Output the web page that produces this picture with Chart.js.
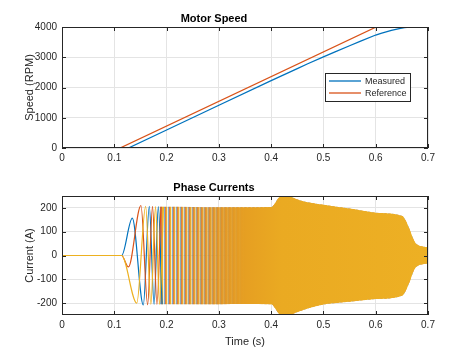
<!DOCTYPE html>
<html><head><meta charset="utf-8">
<script src="https://cdn.jsdelivr.net/npm/chart.js@4"></script>
<style>
html,body{margin:0;padding:0;background:#fff;}
#wrap{position:relative;width:474px;height:355px;background:#fff;overflow:hidden;}
canvas{position:absolute;left:0;}
#c1{top:0;} #c2{top:170px;}
</style></head><body>
<div id="wrap"><canvas id="c1" width="474" height="170"></canvas><canvas id="c2" width="474" height="185"></canvas></div>
<script>
// ---- tick labels ----
const xTicks = [0, 0.1, 0.2, 0.3, 0.4, 0.5, 0.6, 0.7];
const speedTicks = [0, 1000, 2000, 3000, 4000];
const currentTicks = [-200, -100, 0, 100, 200];

// ---- Motor speed (RPM) ----
const refTime = [0, 0.111, 0.601, 0.7];
const refSpeed = [0, 0, 4000, 4000];
const measTime = [0, 0.127, 0.2, 0.3, 0.4, 0.45, 0.47, 0.5, 0.52, 0.55, 0.57, 0.6, 0.61, 0.63, 0.645, 0.655, 0.665, 0.7];
const measSpeed = [0, 0, 596, 1412, 2229, 2625, 2785, 3010, 3160, 3380, 3525, 3735, 3790, 3890, 3950, 3982, 4000, 4000];

// ---- Phase currents (A): resolvable start-up swings (peaks) ----
const phaseATime = [0, 0.114, 0.1345, 0.1555, 0.167, 0.1761, 0.1842, 0.1915];
const phaseAI    = [0, 0, 157, -208, 207, -205, 205, -205];
const phaseBTime = [0, 0.114, 0.127, 0.151, 0.1638, 0.1731, 0.1816, 0.1892];
const phaseBI    = [0, 0, -48, 210, -207, 206, -205, 205];
const phaseCTime = [0, 0.114, 0.143, 0.160, 0.170, 0.1789, 0.1867, 0.194];
const phaseCI    = [0, 0, -200, 207, -205, 205, -205, 205];

// ---- Phase currents: envelope of the dense oscillation band ----
const envTime  = [0.185, 0.25, 0.3, 0.35, 0.4, 0.403, 0.408, 0.413, 0.418, 0.424, 0.43, 0.44, 0.456, 0.5, 0.55, 0.6, 0.651, 0.657, 0.662, 0.666, 0.67, 0.674, 0.68, 0.69, 0.7];
const envUpper = [205, 204, 203, 203, 204, 207, 222, 238, 250, 256, 254, 245, 231, 213, 197, 180, 166, 148, 125, 103, 80, 60, 45, 38, 35];
const envLower = [-205, -205, -205, -204, -205, -208, -224, -240, -252, -258, -256, -247, -233, -206, -194, -183, -168, -150, -126, -104, -80, -58, -44, -37, -34];

const pts = (xs, ys) => xs.map((x, i) => ({x: x, y: ys[i]}));

Chart.defaults.font.family = '"Liberation Sans", Arial, Helvetica, sans-serif';
Chart.defaults.color = '#262626';

const AX = '#262626';
const GRID = '#E4E4E4';

const boxPlugin = {
  id: 'mbox',
  afterDraw(chart) {
    const {ctx, chartArea: a, scales} = chart;
    ctx.save();
    ctx.strokeStyle = AX; ctx.lineWidth = 1;
    ctx.beginPath();
    scales.x.ticks.forEach(t => {
      const px = Math.round(scales.x.getPixelForValue(t.value)) + 0.5;
      ctx.moveTo(px, a.bottom); ctx.lineTo(px, a.bottom - 4);
      ctx.moveTo(px, a.top); ctx.lineTo(px, a.top + 4);
    });
    scales.y.ticks.forEach(t => {
      const py = Math.round(scales.y.getPixelForValue(t.value)) + 0.5;
      ctx.moveTo(a.left, py); ctx.lineTo(a.left + 4, py);
      ctx.moveTo(a.right, py); ctx.lineTo(a.right - 4, py);
    });
    ctx.stroke();
    ctx.strokeRect(Math.round(a.left) + 0.5, Math.round(a.top) + 0.5,
                   Math.round(a.right - a.left) - 1, Math.round(a.bottom - a.top) - 1);
    ctx.restore();
  }
};

const legendPlugin = {
  id: 'mlegend',
  afterDraw(chart) {
    const {ctx, chartArea: a} = chart;
    const x0 = Math.round(a.right) - 103, y0 = Math.round(a.top) + 46, w = 85, h = 28;
    ctx.save();
    ctx.fillStyle = '#fff';
    ctx.fillRect(x0, y0, w, h);
    ctx.strokeStyle = AX; ctx.lineWidth = 1;
    ctx.strokeRect(x0 + 0.5, y0 + 0.5, w, h);
    const items = ['Measured', 'Reference'];
    items.forEach((lbl, i) => {
      const ds = chart.data.datasets.find(d => d.label === lbl);
      const y = y0 + 8 + i * 12;
      ctx.strokeStyle = ds.borderColor; ctx.lineWidth = 1.3;
      ctx.beginPath(); ctx.moveTo(x0 + 4, y); ctx.lineTo(x0 + 36, y); ctx.stroke();
      ctx.fillStyle = AX; ctx.font = '9px "Liberation Sans", Arial, sans-serif';
      ctx.textBaseline = 'middle'; ctx.textAlign = 'left';
      ctx.fillText(lbl, x0 + 40, y + 0.5);
    });
    ctx.restore();
  }
};

function xScale(height) {
  return {
    type: 'linear', min: 0, max: 0.7,
    afterBuildTicks: s => { s.ticks = xTicks.map(v => ({value: v})); },
    afterFit: s => { s.height = height; },
    ticks: {callback: v => String(v), padding: 4, color: AX, font: {size: 10}, maxRotation: 0, autoSkip: false},
    grid: {color: GRID, drawTicks: false},
    border: {display: false}
  };
}
function yScale(min, max, ticks, label) {
  return {
    type: 'linear', min: min, max: max,
    afterBuildTicks: s => { s.ticks = ticks.map(v => ({value: v})); },
    afterFit: s => { s.width = 62; },
    ticks: {callback: v => String(v), padding: 5, color: AX, font: {size: 10}, autoSkip: false},
    grid: {color: GRID, drawTicks: false},
    border: {display: false},
    title: {display: true, text: label, color: AX, font: {size: 11}, padding: {top: 23, bottom: 0}}
  };
}

// ---------- Top: Motor Speed ----------
new Chart(document.getElementById('c1'), {
  type: 'line',
  data: {datasets: [
    {label: 'Measured', data: pts(measTime, measSpeed), borderColor: '#0072BD', borderWidth: 1.3,
     pointRadius: 0, tension: 0, order: 2, fill: false},
    {label: 'Reference', data: pts(refTime, refSpeed), borderColor: '#D95319', borderWidth: 1.3,
     pointRadius: 0, tension: 0, order: 1, fill: false}
  ]},
  options: {
    responsive: false, animation: false, devicePixelRatio: 1,
    layout: {padding: {left: 0, right: 46, top: 0, bottom: 0}},
    plugins: {
      legend: {display: false}, tooltip: {enabled: false},
      title: {display: true, text: 'Motor Speed', color: '#000', font: {size: 11, weight: 'bold'}, padding: {top: 12, bottom: 1.8}}
    },
    scales: {x: xScale(22), y: yScale(0, 4000, speedTicks, 'Speed (RPM)')}
  },
  plugins: [boxPlugin, legendPlugin]
});

// ---------- Bottom: Phase Currents ----------
// striped texture standing in for the densely packed three-phase traces
const stripeCanvas = document.createElement('canvas');
stripeCanvas.width = 4; stripeCanvas.height = 2;
(function () {
  const c = stripeCanvas.getContext('2d');
  const cols = ['rgba(0,114,189,0.55)', 'rgba(217,83,25,0.8)', 'rgba(237,177,32,0.95)', 'rgba(240,215,170,0.35)'];
  cols.forEach((col, i) => { c.fillStyle = col; c.fillRect(i, 0, 1, 2); });
})();
let stripePattern = null;
function stripeFill(context) {
  const ctx = context.chart.ctx;
  if (!stripePattern) stripePattern = ctx.createPattern(stripeCanvas, 'repeat');
  return stripePattern;
}
function bandFill(context) {
  const chart = context.chart;
  const {ctx, chartArea} = chart;
  if (!chartArea) return 'rgba(0,0,0,0)';
  const xs = chart.scales.x;
  const p0 = xs.getPixelForValue(0), p1 = xs.getPixelForValue(0.7);
  const g = ctx.createLinearGradient(p0, 0, p1, 0);
  const f = t => t / 0.7;
  g.addColorStop(f(0.185), 'rgba(222,150,45,0)');
  g.addColorStop(f(0.22), 'rgba(218,150,50,0.2)');
  g.addColorStop(f(0.27), 'rgba(220,148,42,0.55)');
  g.addColorStop(f(0.31), 'rgba(225,152,38,0.88)');
  g.addColorStop(f(0.35), 'rgb(230,159,34)');
  g.addColorStop(f(0.42), 'rgb(234,170,34)');
  g.addColorStop(1, 'rgb(237,176,36)');
  return g;
}

new Chart(document.getElementById('c2'), {
  type: 'line',
  data: {datasets: [
    {label: 'Phase A', data: pts(phaseATime, phaseAI), borderColor: '#0072BD', borderWidth: 1.2,
     pointRadius: 0, cubicInterpolationMode: 'monotone', order: 3, fill: false},
    {label: 'Phase B', data: pts(phaseBTime, phaseBI), borderColor: '#D95319', borderWidth: 1.2,
     pointRadius: 0, cubicInterpolationMode: 'monotone', order: 2, fill: false},
    {label: 'Phase C', data: pts(phaseCTime, phaseCI), borderColor: '#EDB120', borderWidth: 1.2,
     pointRadius: 0, cubicInterpolationMode: 'monotone', order: 1, fill: false},
    {label: 'Band upper', data: pts(envTime, envUpper), borderColor: 'rgba(0,0,0,0)', borderWidth: 0,
     pointRadius: 0, cubicInterpolationMode: 'monotone', order: 4, fill: '+1', backgroundColor: bandFill},
    {label: 'Band lower', data: pts(envTime, envLower), borderColor: 'rgba(0,0,0,0)', borderWidth: 0,
     pointRadius: 0, cubicInterpolationMode: 'monotone', order: 5, fill: false},
    {label: 'Texture upper', data: pts(envTime, envUpper), borderColor: 'rgba(0,0,0,0)', borderWidth: 0,
     pointRadius: 0, cubicInterpolationMode: 'monotone', order: 6, fill: '+1', backgroundColor: stripeFill},
    {label: 'Texture lower', data: pts(envTime, envLower), borderColor: 'rgba(0,0,0,0)', borderWidth: 0,
     pointRadius: 0, cubicInterpolationMode: 'monotone', order: 7, fill: false}
  ]},
  options: {
    responsive: false, animation: false, devicePixelRatio: 1,
    layout: {padding: {left: 0, right: 46, top: 0, bottom: 0}},
    plugins: {
      legend: {display: false}, tooltip: {enabled: false},
      filler: {propagate: false},
      title: {display: true, text: 'Phase Currents', color: '#000', font: {size: 11, weight: 'bold'}, padding: {top: 11, bottom: 1.8}}
    },
    scales: {
      x: Object.assign(xScale(40), {title: {display: true, text: 'Time (s)', color: AX, font: {size: 11}, padding: {top: 0, bottom: 6.7}}}),
      y: yScale(-250, 250, currentTicks, 'Current (A)')
    }
  },
  plugins: [boxPlugin]
});
</script>
</body></html>
